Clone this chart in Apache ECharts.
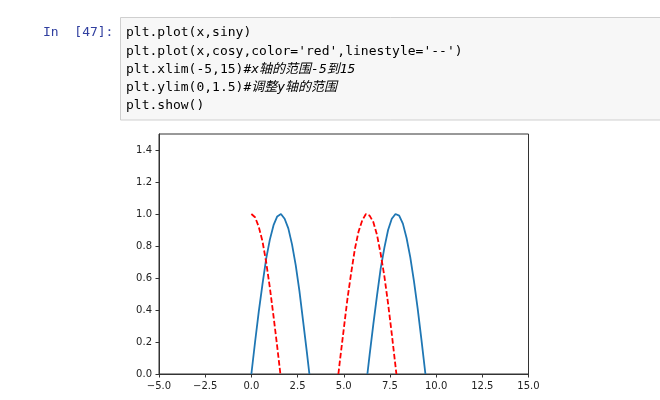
<!DOCTYPE html>
<html>
<head>
<meta charset="utf-8">
<script src="https://cdn.jsdelivr.net/npm/echarts@6/dist/echarts.min.js"></script>
<style>
html,body{margin:0;padding:0;background:#fff;}
#chart{width:660px;height:400px;}
</style>
</head>
<body>
<div id="chart"></div>
<script>
// sin curve (blue, solid) — visible parts above y=0
const sinPoints = [
  [0,0],[0.2,0.2],[0.4,0.39],[0.6,0.56],[0.8,0.72],[1.0,0.84],[1.2,0.93],[1.4,0.985],[1.6,1.0],
  [1.8,0.97],[2.0,0.91],[2.2,0.81],[2.4,0.68],[2.6,0.52],[2.8,0.33],[3.0,0.14],[3.14,0],
  [null,null],
  [6.28,0],[6.4,0.12],[6.6,0.31],[6.8,0.49],[7.0,0.66],[7.2,0.79],[7.4,0.9],[7.6,0.97],[7.8,1.0],
  [8.0,0.99],[8.2,0.94],[8.4,0.85],[8.6,0.73],[8.8,0.58],[9.0,0.41],[9.2,0.22],[9.42,0]
];
// cos curve (red, dashed) — visible parts above y=0
const cosPoints = [
  [0,1.0],[0.2,0.98],[0.4,0.92],[0.6,0.83],[0.8,0.7],[1.0,0.54],[1.2,0.36],[1.4,0.17],[1.57,0],
  [null,null],
  [4.71,0],[4.8,0.09],[5.0,0.28],[5.2,0.47],[5.4,0.63],[5.6,0.78],[5.8,0.89],[6.0,0.96],[6.2,1.0],
  [6.4,0.99],[6.6,0.95],[6.8,0.87],[7.0,0.75],[7.2,0.61],[7.4,0.44],[7.6,0.25],[7.85,0]
];
const xTicks = [-5, -2.5, 0, 2.5, 5, 7.5, 10, 12.5, 15];
const yTicks = [0, 0.2, 0.4, 0.6, 0.8, 1.0, 1.2, 1.4];
const xRange = [-5, 15];
const yRange = [0, 1.5];
const promptText = 'In  [47]:';
const codeLines = [
  '{n|plt.plot(x,siny)}',
  '{n|plt.plot(x,cosy,color}{p|=}{s|\'red\'}{n|,linestyle}{p|=}{s|\'--\'}{n|)}',
  '{n|plt.xlim(}{p|-}{g|5}{n|,}{g|15}{n|)}{c|#x轴的范围-5到15}',
  '{n|plt.ylim(}{g|0}{n|,}{g|1.5}{n|)}{c|#调整y轴的范围}',
  '{n|plt.show()}'
];

const fmt = v => {
  const s = v.toFixed(1);
  return v < 0 ? '\u2212' + s.slice(1) : s;
};

const mono = '"DejaVu Sans Mono", "Liberation Mono", "Noto Sans CJK SC", monospace';
const rich = {
  n: {fontFamily: mono, fontSize: 13, color: '#000'},
  p: {fontFamily: mono, fontSize: 13, color: '#AA22FF'},
  s: {fontFamily: mono, fontSize: 13, color: '#BA2121'},
  g: {fontFamily: mono, fontSize: 13, color: '#008000'},
  c: {fontFamily: mono, fontSize: 13, color: '#408080', fontStyle: 'italic'}
};
const lineYs = [33, 51.5, 70, 88, 106];

const graphics = [
  {type: 'rect', shape: {x: 120.5, y: 17.5, width: 560, height: 102.5},
   style: {fill: '#f7f7f7', stroke: '#cfcfcf', lineWidth: 1}, z: 0},
  {type: 'text', x: 43, y: 33,
   style: {text: promptText, font: '13px ' + mono, fill: '#303F9F', verticalAlign: 'middle'}}
];
codeLines.forEach((t, i) => {
  graphics.push({type: 'text', x: 126, y: lineYs[i],
    style: {text: t, rich: rich, font: '13px ' + mono, fill: '#000', verticalAlign: 'middle'}});
});

const axisColor = '#333';
const chart = echarts.init(document.getElementById('chart'), null, {renderer: 'canvas'});
chart.setOption({
  backgroundColor: '#fff',
  animation: false,
  graphic: graphics,
  grid: {left: 159, right: 131.5, top: 134, bottom: 26, show: true,
         borderColor: axisColor, borderWidth: 1, backgroundColor: 'transparent'},
  xAxis: {
    type: 'value', min: xRange[0], max: xRange[1], interval: 2.5,
    axisLine: {show: true, onZero: false, lineStyle: {color: axisColor, width: 1}},
    axisTick: {show: true, length: 3.5, inside: false, customValues: xTicks, lineStyle: {color: axisColor}},
    axisLabel: {customValues: xTicks, formatter: fmt, color: '#222', fontSize: 10,
                fontFamily: '"DejaVu Sans", sans-serif', margin: 7, showMinLabel: true, showMaxLabel: true},
    splitLine: {show: false}
  },
  yAxis: {
    type: 'value', min: yRange[0], max: yRange[1], interval: 0.2,
    axisLine: {show: true, onZero: false, lineStyle: {color: axisColor, width: 1}},
    axisTick: {show: true, length: 3.5, inside: false, customValues: yTicks, lineStyle: {color: axisColor}},
    axisLabel: {customValues: yTicks, formatter: v => v.toFixed(1), color: '#222', fontSize: 10,
                fontFamily: '"DejaVu Sans", sans-serif', margin: 7},
    splitLine: {show: false}
  },
  series: [
    {type: 'line', data: sinPoints, showSymbol: false, symbol: 'none', connectNulls: false,
     lineStyle: {color: '#1f77b4', width: 1.8}, clip: true},
    {type: 'line', data: cosPoints, showSymbol: false, symbol: 'none', connectNulls: false,
     lineStyle: {color: '#ff0000', width: 1.8, type: [5.5, 2.4]}, clip: true}
  ]
});
</script>
</body>
</html>
